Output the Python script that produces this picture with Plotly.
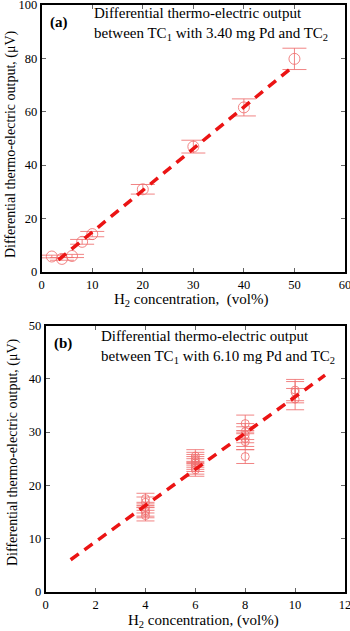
import plotly.graph_objects as go

# Panel (a): 3.40 mg Pd
a_x = [2, 4, 6, 8, 10, 20, 30, 40, 50]
a_y = [5.7, 4.8, 5.9, 11.2, 14.1, 30.9, 46.9, 61.6, 79.8]
a_err = [0.5, 0.5, 0.6, 0.9, 1.0, 1.8, 2.4, 3.2, 4.0]
a_fit_x = [3.3, 49.7]
a_fit_y = [4.4, 76.9]

# Panel (b): 6.10 mg Pd
b_x = [4, 4, 4, 4, 4, 4,
       6, 6, 6, 6, 6, 6, 6,
       8, 8, 8, 8, 8, 8,
       10, 10, 10]
b_y = [17.5, 16.8, 15.8, 15.2, 14.9, 14.3,
       25.5, 25.0, 24.6, 24.2, 23.8, 23.3, 22.9,
       31.6, 30.1, 29.5, 28.8, 28.2, 25.4,
       37.9, 37.5, 36.2]
b_err = [1.0, 1.0, 1.0, 1.0, 1.0, 1.0,
         1.2, 1.2, 1.2, 1.2, 1.2, 1.2, 1.2,
         1.6, 1.5, 1.5, 1.5, 1.5, 1.3,
         2.0, 2.0, 2.0]
b_fit_x = [1.0, 11.2]
b_fit_y = [6.0, 40.7]

PINK = "rgba(238,110,110,0.85)"
RED = "rgb(235,20,20)"
FONT = "Liberation Serif"

fig = go.Figure()
fig.add_trace(go.Scatter(
    x=a_x, y=a_y, mode="markers", xaxis="x", yaxis="y",
    marker=dict(symbol="circle-open", size=11, color=PINK, line=dict(width=1, color=PINK)),
    error_y=dict(type="data", array=a_err, color=PINK, thickness=1, width=12),
    showlegend=False))
fig.add_trace(go.Scatter(
    x=a_fit_x, y=a_fit_y, mode="lines", xaxis="x", yaxis="y",
    line=dict(color=RED, width=3.5, dash="10px,7px"), showlegend=False))
fig.add_trace(go.Scatter(
    x=b_x, y=b_y, mode="markers", xaxis="x2", yaxis="y2",
    marker=dict(symbol="circle-open", size=8, color=PINK, line=dict(width=1, color=PINK)),
    error_y=dict(type="data", array=b_err, color=PINK, thickness=1, width=9),
    showlegend=False))
fig.add_trace(go.Scatter(
    x=b_fit_x, y=b_fit_y, mode="lines", xaxis="x2", yaxis="y2",
    line=dict(color=RED, width=3.5, dash="10px,7px"), showlegend=False))

W, H = 350, 631
def px(x): return x / W
def py(y): return 1 - y / H

axis_common = dict(showgrid=False, zeroline=False, showline=True, linecolor="black",
                   linewidth=2, mirror="allticks", ticks="inside", ticklen=4,
                   tickcolor="#666", tickwidth=1, ticklabeloverflow="allow",
                   tickfont=dict(family=FONT, size=12.5, color="black"), automargin=False)

fig.update_layout(
    width=W, height=H, margin=dict(l=0, r=0, t=0, b=0),
    paper_bgcolor="white", plot_bgcolor="white",
    xaxis=dict(domain=[px(41.7), px(345)], range=[0, 60], dtick=10, anchor="y", **axis_common),
    yaxis=dict(domain=[py(271.7), py(5)], range=[0, 100], dtick=20, anchor="x", **axis_common),
    xaxis2=dict(domain=[px(45.7), px(345)], range=[0, 12], dtick=2, anchor="y2", **axis_common),
    yaxis2=dict(domain=[py(591.7), py(325.7)], range=[0, 50], dtick=10, anchor="x2", **axis_common),
)

ann = []
tf = dict(family=FONT, size=15, color="black")
# axis titles
ann.append(dict(x=px(191), y=py(300), xref="paper", yref="paper", text="H<sub>2</sub> concentration,  (vol%)",
                showarrow=False, font=dict(family=FONT, size=15, color="black"), xanchor="center", yanchor="middle"))
ann.append(dict(x=px(203), y=py(621), xref="paper", yref="paper", text="H<sub>2</sub> concentration, (vol%)",
                showarrow=False, font=dict(family=FONT, size=15, color="black"), xanchor="center", yanchor="middle"))
ann.append(dict(x=px(11), y=py(144), xref="paper", yref="paper", text="Differential thermo-electric output, (μV)",
                showarrow=False, textangle=-90, font=dict(family=FONT, size=14, color="black"),
                xanchor="center", yanchor="middle"))
ann.append(dict(x=px(13), y=py(452), xref="paper", yref="paper", text="Differential thermo-electric output, (μV)",
                showarrow=False, textangle=-90, font=dict(family=FONT, size=14, color="black"),
                xanchor="center", yanchor="middle"))
# panel labels
ann.append(dict(x=px(48), y=py(23), xref="paper", yref="paper", text="<b>(a)</b>", showarrow=False,
                font=dict(family=FONT, size=15, color="black"), xanchor="left", yanchor="middle"))
ann.append(dict(x=px(52), y=py(343), xref="paper", yref="paper", text="<b>(b)</b>", showarrow=False,
                font=dict(family=FONT, size=15, color="black"), xanchor="left", yanchor="middle"))
# descriptions (two lines each)
ann.append(dict(x=px(92), y=py(24), xref="paper", yref="paper",
                text="Differential thermo-electric output<br>between TC<sub>1</sub> with 3.40 mg Pd and TC<sub>2</sub>",
                showarrow=False, font=tf, xanchor="left", yanchor="middle", align="left"))
ann.append(dict(x=px(99), y=py(347), xref="paper", yref="paper",
                text="Differential thermo-electric output<br>between TC<sub>1</sub> with 6.10 mg Pd and TC<sub>2</sub>",
                showarrow=False, font=tf, xanchor="left", yanchor="middle", align="left"))
fig.update_layout(annotations=ann)

fig.write_html("out.html", config={"displayModeBar": False},
               post_script="document.body.style.margin='0';document.body.style.overflow='hidden';")
